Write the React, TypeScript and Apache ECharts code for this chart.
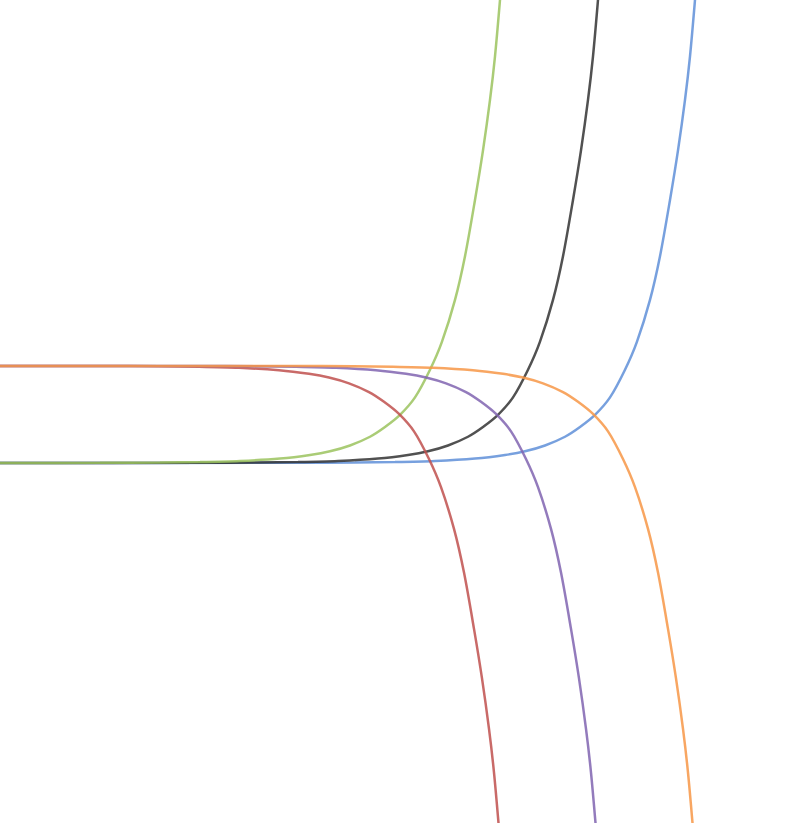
import React, { useEffect, useRef } from 'react';
import * as echarts from 'echarts';

// rising curves: x positions and heights
const risingY = [0, 0.001, 0.004, 0.009, 0.02, 0.045, 0.082, 0.12, 0.18, 0.27, 0.37, 0.495, 0.675, 0.96, 1.25, 1.68, 2.13, 2.71, 3.22, 3.74, 4.19, 4.77, 5.29];
const greenX = [-4, -3, -2.4, -2, -1.6, -1.2, -0.9, -0.7, -0.5, -0.3, -0.15, 0, 0.15, 0.3, 0.42, 0.55, 0.65, 0.75, 0.83, 0.9, 0.95, 1.0, 1.04];
const blackX = [-4, -2.02, -1.42, -1.02, -0.62, -0.22, 0.08, 0.28, 0.48, 0.68, 0.83, 0.98, 1.13, 1.28, 1.4, 1.53, 1.63, 1.73, 1.81, 1.88, 1.93, 1.98, 2.02];
const blueX = [-4, -1.05, -0.45, -0.05, 0.35, 0.75, 1.05, 1.25, 1.45, 1.65, 1.8, 1.95, 2.1, 2.25, 2.37, 2.5, 2.6, 2.7, 2.78, 2.85, 2.9, 2.95, 2.99];

// falling curves
const fallingY = [1, 0.999, 0.996, 0.991, 0.98, 0.955, 0.918, 0.88, 0.82, 0.73, 0.63, 0.505, 0.325, 0.04, -0.25, -0.68, -1.13, -1.71, -2.22, -2.74, -3.19, -3.77, -4.29];
const redX = [-4, -3.01, -2.41, -2.01, -1.61, -1.21, -0.91, -0.71, -0.51, -0.31, -0.16, -0.01, 0.14, 0.29, 0.41, 0.54, 0.64, 0.74, 0.82, 0.89, 0.94, 0.99, 1.03];
const purpleX = [-4, -2.04, -1.44, -1.04, -0.64, -0.24, 0.06, 0.26, 0.46, 0.66, 0.81, 0.96, 1.11, 1.26, 1.38, 1.51, 1.61, 1.71, 1.79, 1.86, 1.91, 1.96, 2.0];
const orangeX = [-4, -1.07, -0.47, -0.07, 0.33, 0.73, 1.03, 1.23, 1.43, 1.63, 1.78, 1.93, 2.08, 2.23, 2.35, 2.48, 2.58, 2.68, 2.76, 2.83, 2.88, 2.93, 2.97];

const curves = [
  { name: 'blue', xs: blueX, ys: risingY, color: '#5f8fd8' },
  { name: 'black', xs: blackX, ys: risingY, color: '#333333' },
  { name: 'green', xs: greenX, ys: risingY, color: '#9bc35e' },
  { name: 'red', xs: redX, ys: fallingY, color: '#c0504d' },
  { name: 'purple', xs: purpleX, ys: fallingY, color: '#8064b0' },
  { name: 'orange', xs: orangeX, ys: fallingY, color: '#f79646' },
];

const App: React.FC = () => {
  const chartRef = useRef<HTMLDivElement>(null);

  useEffect(() => {
    if (!chartRef.current) return;
    const chart = echarts.init(chartRef.current, null, { renderer: 'svg' });

    const option: any = {
      animation: false,
      backgroundColor: '#ffffff',
      grid: { left: 0, right: 0, top: 0, bottom: 0 },
      xAxis: {
        type: 'value',
        min: -4,
        max: 4,
        show: false,
      },
      yAxis: {
        type: 'value',
        min: -3.71,
        max: 4.77,
        show: false,
      },
      series: curves.map(c => ({
        name: c.name,
        type: 'line',
        data: c.xs.map((x, i) => [x, c.ys[i]]),
        smooth: 0.3,
        symbol: 'none',
        clip: true,
        lineStyle: { color: c.color, width: 2.5, opacity: 0.85 },
      })),
    };

    chart.setOption(option);
    return () => {
      chart.dispose();
    };
  }, []);

  return (
    <div
      ref={chartRef}
      style={{ position: 'fixed', left: 0, top: 0, width: 800, height: 823 }}
    />
  );
};

export default App;
